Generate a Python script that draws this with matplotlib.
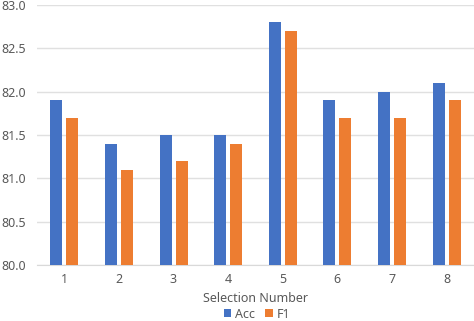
import matplotlib
matplotlib.use("Agg")
import matplotlib.pyplot as plt
import numpy as np

categories = ["1", "2", "3", "4", "5", "6", "7", "8"]
acc = [81.9, 81.4, 81.5, 81.5, 82.8, 81.9, 82.0, 82.1]
f1 = [81.7, 81.1, 81.2, 81.4, 82.7, 81.7, 81.7, 81.9]
yticks = [80.0, 80.5, 81.0, 81.5, 82.0, 82.5, 83.0]

plt.rcParams['font.family'] = ['Noto Sans', 'DejaVu Sans']
fig = plt.figure(figsize=(4.74, 3.21), dpi=100)
ax = fig.add_axes([37/474, 1-265/321, 1-37/474, 260/321])

x = np.arange(len(categories))
w = 0.22
off = 0.147
ax.bar(x - off, acc, w, color="#4472C4", label="Acc", zorder=3)
ax.bar(x + off, f1, w, color="#ED7D31", label="F1", zorder=3)

ax.set_xlim(-0.5, len(categories) - 0.5)
ax.set_ylim(80.0, 83.0)
ax.set_yticks(yticks)
ax.set_yticklabels([f"{v:.1f}" for v in yticks])
ax.set_xticks(x)
ax.set_xticklabels(categories)
ax.grid(axis="y", color="#E0E0E0", linewidth=1, zorder=0)
for s in ["top", "right", "left"]:
    ax.spines[s].set_visible(False)
ax.spines["bottom"].set_color("#D9D9D9")
ax.tick_params(axis="both", length=0, labelsize=9, colors="#595959")
ax.tick_params(axis="y", pad=26.0)
ax.tick_params(axis="x", pad=6)
for lbl in ax.get_yticklabels():
    lbl.set_horizontalalignment("left")
ax.set_xlabel("Selection Number", fontsize=9, color="#595959", labelpad=4)

leg = fig.legend(loc="center", bbox_to_anchor=(257/474, 1-314/321), ncol=2,
                 frameon=False, fontsize=9, handlelength=0.6, handleheight=0.6,
                 handletextpad=0.3, columnspacing=0.8, labelcolor="#595959")

fig.savefig("out.png", dpi=100)
